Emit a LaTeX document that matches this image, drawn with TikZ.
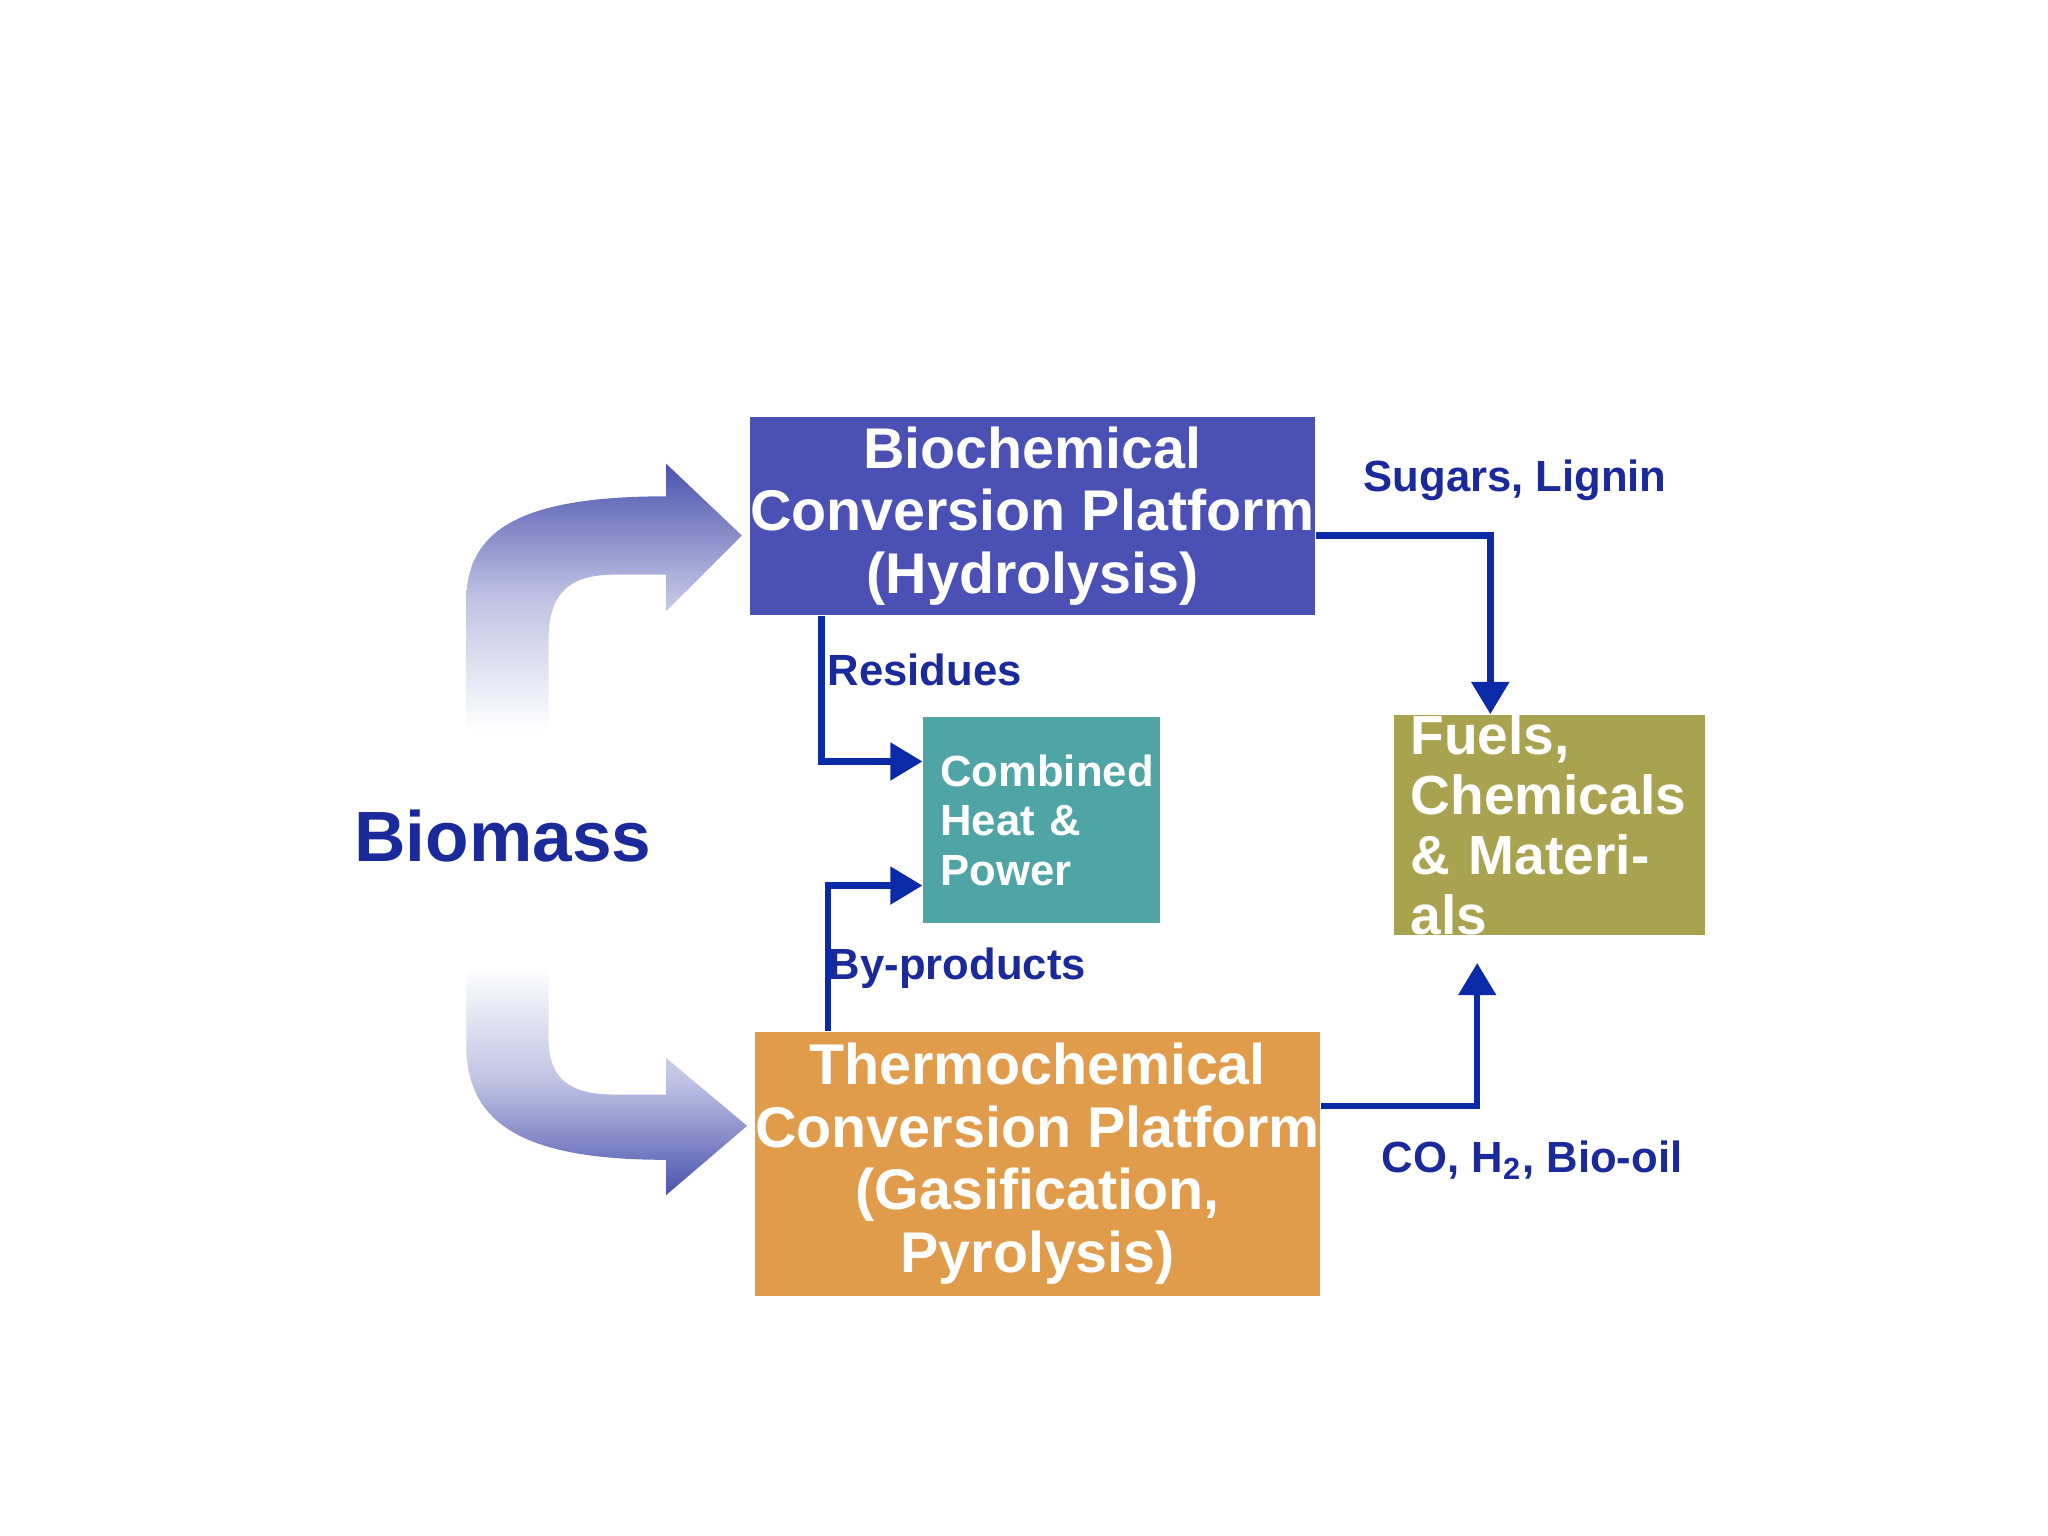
\documentclass[tikz,border=0pt]{standalone}
\usepackage{fontspec}
\setmainfont{Liberation Sans}
\usetikzlibrary{arrows.meta}
\definecolor{bio}{HTML}{4B50B4}
\definecolor{chp}{HTML}{4FA5A5}
\definecolor{fuel}{HTML}{A9A24F}
\definecolor{thermo}{HTML}{E09B4B}
\definecolor{dblue}{HTML}{1A2A9A}
\definecolor{arr}{HTML}{0A2AA8}
\definecolor{grad}{HTML}{4A52AE}
\begin{document}
\begin{tikzpicture}[x=0.01cm,y=-0.01cm,
  box/.style={draw=none,inner sep=0pt,text=white,font=\bfseries,align=center},
  lbl/.style={text=dblue,font=\bfseries\fontsize{9.5}{11}\selectfont},
  conn/.style={draw=arr,line width=1.4pt,-{Triangle[length=7pt,width=8pt]}}]
\useasboundingbox (0,0) rectangle (1568,1176);
\fill[white] (0,0) rectangle (1568,1176);
% gradient arrows
\shade[top color=grad,bottom color=white,middle color=grad!35]
 (357,560) -- (357,460) .. controls (357,405) and (400,380) .. (510,380) -- (510,355) -- (568,410) -- (510,468) -- (510,440) -- (470,440) .. controls (435,440) and (420,455) .. (420,490) -- (420,560) -- cycle;
\shade[bottom color=grad,top color=white,middle color=grad!35]
 (357,740) -- (357,800) .. controls (357,860) and (400,888) .. (510,888) -- (510,915) -- (572,862) -- (510,810) -- (510,838) -- (470,838) .. controls (435,838) and (420,825) .. (420,795) -- (420,740) -- cycle;
\node[box,fill=bio,minimum width=4.27cm,minimum height=1.52cm,font=\bfseries\fontsize{12.5}{13.6}\selectfont] (bc) at (790.5,395) {Biochemical\\Conversion Platform\\(Hydrolysis)};
\node[box,fill=chp,minimum width=1.81cm,minimum height=1.58cm,font=\bfseries\fontsize{9.5}{10.8}\selectfont,align=left,text width=1.55cm] (chp) at (797.5,628) {Combined\\Heat \&\\Power};
\node[box,fill=fuel,minimum width=2.38cm,minimum height=1.55cm,font=\bfseries\fontsize{12}{13}\selectfont,align=left,text width=2.12cm] (fu) at (1186,631.5) {Fuels,\\Chemicals\\\& Materials};
\node[box,fill=thermo,minimum width=4.21cm,minimum height=2.02cm,font=\bfseries\fontsize{12.5}{13.6}\selectfont] (th) at (794.5,891) {Thermochemical\\Conversion Platform\\(Gasification,\\Pyrolysis)};
\node[text=dblue,font=\bfseries\fontsize{15.5}{18}\selectfont] (bm) at (385,640) {Biomass};
\coordinate (c1) at (1141,410);
\coordinate (c2) at (1131,847);
\coordinate (c3) at (629,583);
\coordinate (c4) at (634,678);
\draw[conn] (bc.east |- c1) -- (c1) -- (c1 |- fu.north);
\draw[conn] (th.east |- c2) -- (c2) -- ([yshift=-6]c2 |- fu.south);
\draw[conn] (c3 |- bc.south) -- (c3) -- (chp.west |- c3);
\draw[conn] (c4 |- th.north) -- (c4) -- (chp.west |- c4);
\node[lbl] (l1) at (1160,368) {Sugars, Lignin};
\node[lbl] (l2) at (708,513) {Residues};
\node[lbl] (l3) at (733,741) {By-products};
\node[lbl] (l4) at (1173,888) {CO, H\textsubscript{2}, Bio-oil};
\end{tikzpicture}
\end{document}
